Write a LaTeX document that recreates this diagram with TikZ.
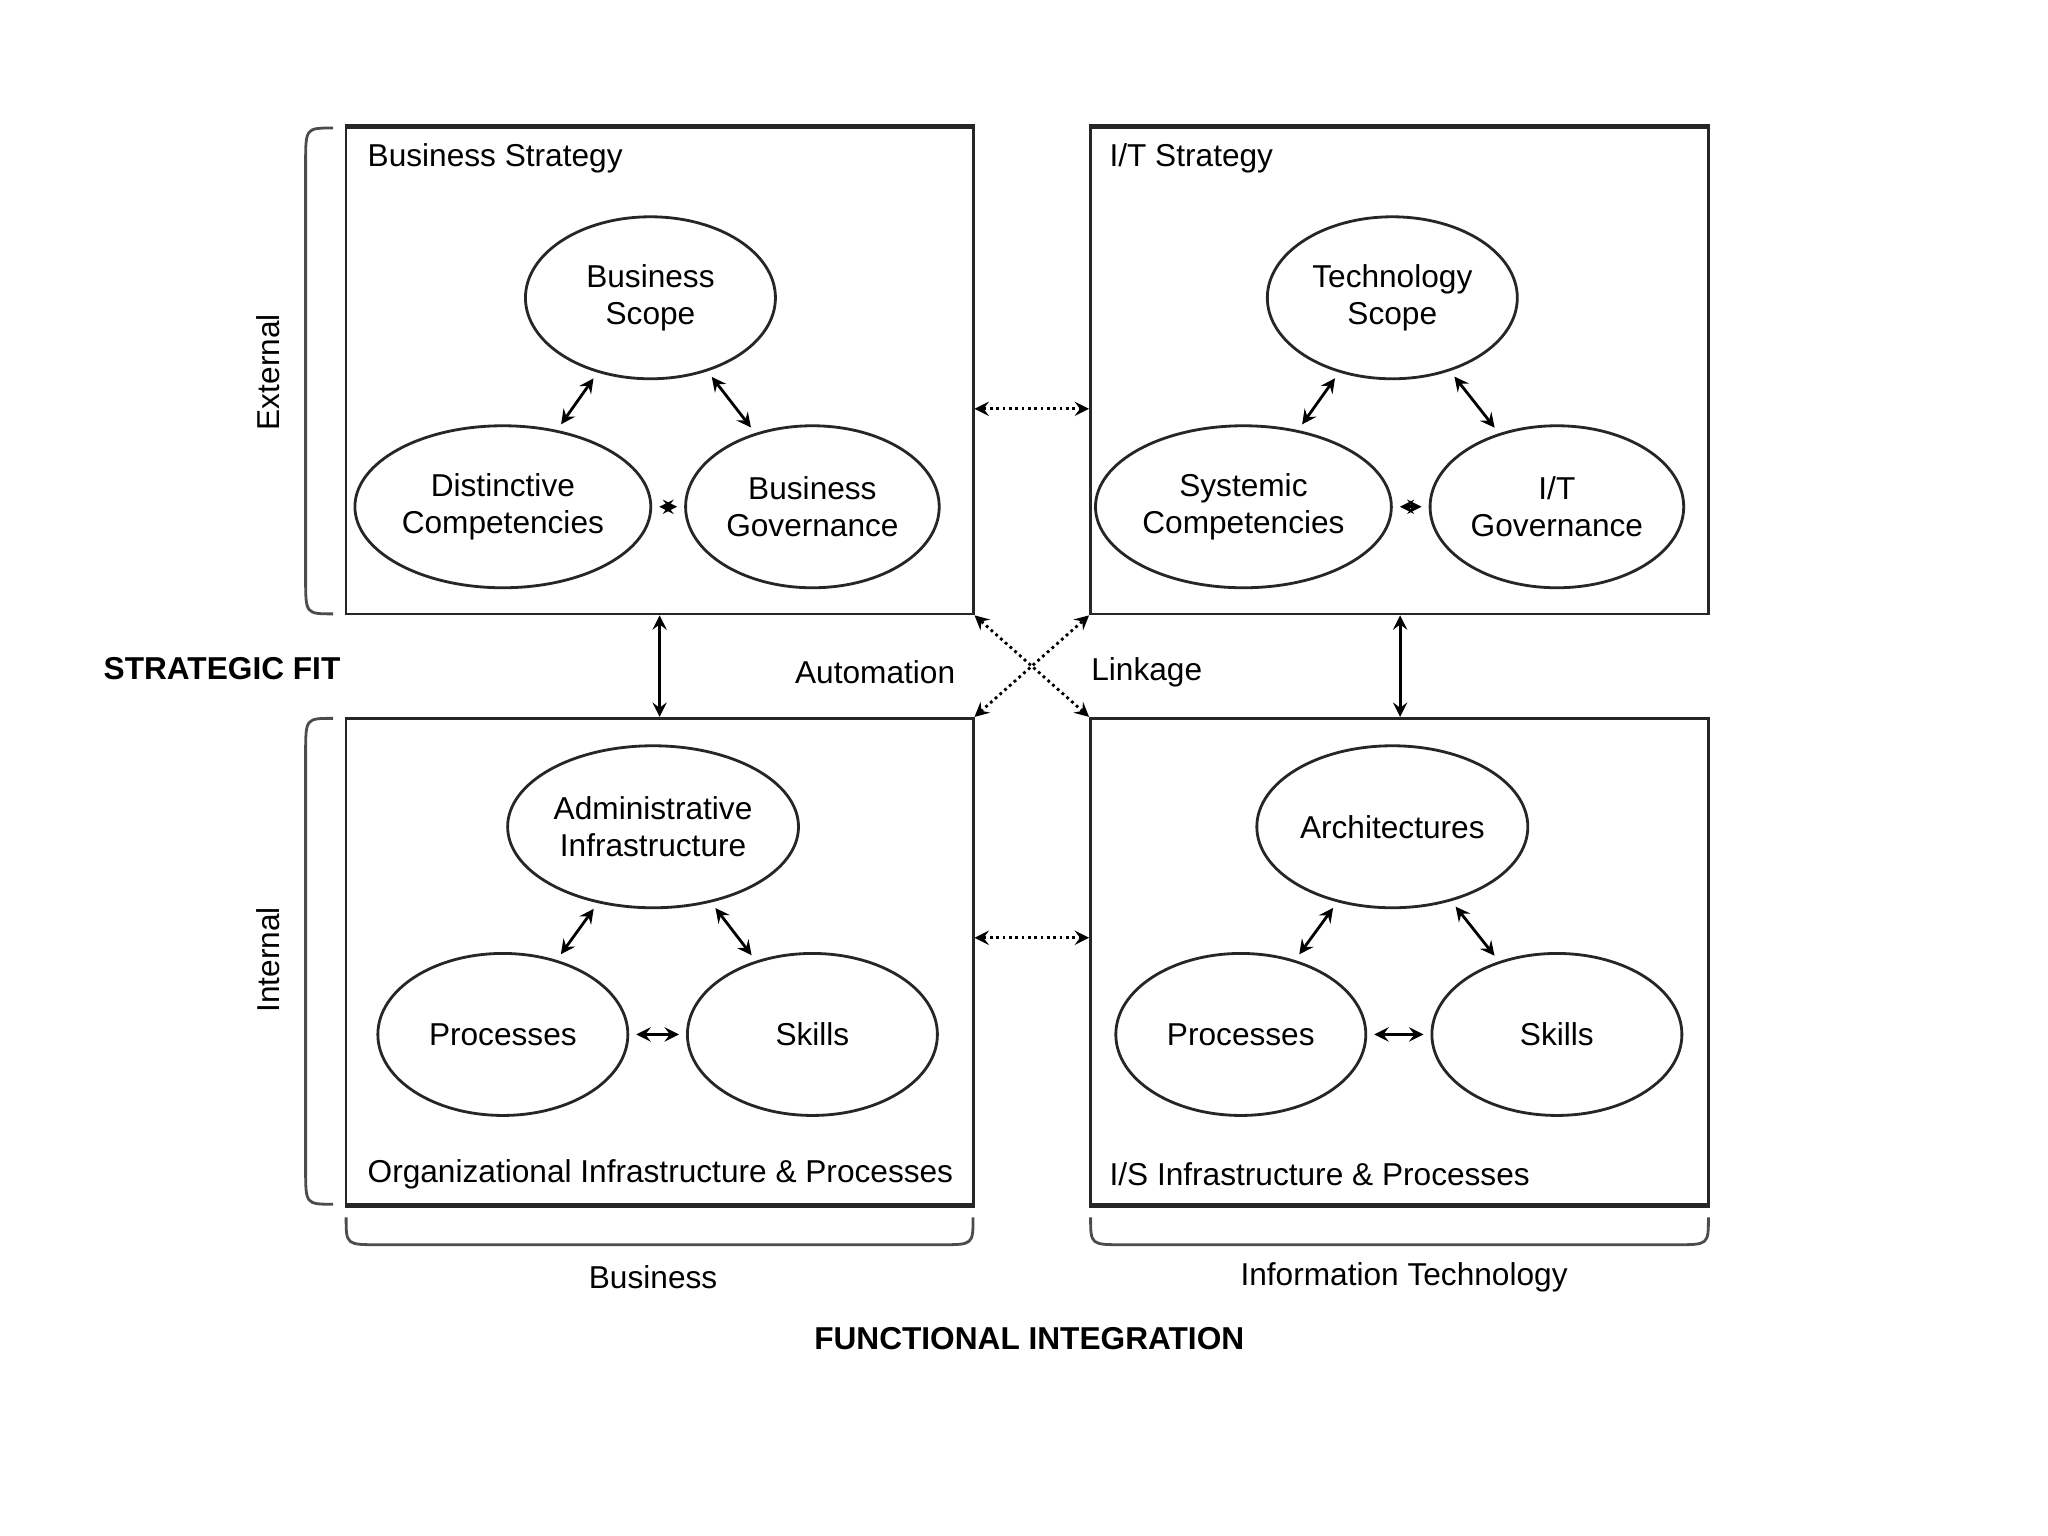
\documentclass[tikz,border=0pt]{standalone}
\usepackage{fontspec}
\setmainfont{Liberation Sans}
\usetikzlibrary{arrows, positioning, calc, shapes.geometric}
\tikzset{
  block/.style={rectangle, draw=black!85, thick, minimum width=6.27cm, minimum height=4.86cm},
  goal/.style={ellipse, draw=black!85, thick, minimum width=2.5cm, minimum height=1.62cm, align=center, inner sep=1pt},
  link/.style={thick, <->, >=stealth, shorten <=2pt, shorten >=2pt},
  dotlink/.style={thick, densely dotted, <->, >=stealth},
  title/.style={anchor=west},
  caption/.style={font=\fontsize{9}{10}\selectfont\bfseries},
  bracket/.style={thick, black!70}
}
\begin{document}
\begin{tikzpicture}[x=0.01306cm, y=-0.01306cm, font=\fontsize{9}{10.5}\selectfont]
  \useasboundingbox (0,0) rectangle (1568,1176);

  % Blocks
  \node (bstrat) [block] at (505,284) {};
  \node (itstrat) [block, minimum width=6.18cm] at (1071.5,284) {};
  \node (binfra) [block] at (505,736) {};
  \node (itinfra) [block, minimum width=6.18cm] at (1071.5,736) {};

  \draw[thick, black!85] ($(bstrat.north west)+(0,-0.61)$) coordinate (h1) -- (h1 -| bstrat.east);
  \draw[thick, black!85] ($(itstrat.north west)+(0,-0.61)$) coordinate (h2) -- (h2 -| itstrat.east);
  \draw[thick, black!85] ($(binfra.south west)+(0,0.57)$) coordinate (f1) -- (f1 -| binfra.east);
  \draw[thick, black!85] ($(itinfra.south west)+(0,0.57)$) coordinate (f2) -- (f2 -| itinfra.east);

  \node (t1) [title] at (272,121) {Business Strategy};
  \node (t2) [title] at (840,121) {I/T Strategy};
  \node (t3) [title] at (272,899) {Organizational Infrastructure \& Processes};
  \node (t4) [title] at (840,899) {I/S Infrastructure \& Processes};

  % Ellipses
  \node (bscope) [goal] at (498,228) {Business\\Scope};
  \node (dcomp) [goal] at (385,388) {Distinctive\\Competencies};
  \node (bgov) [goal] at (622,388) {Business\\Governance};
  \node (tscope) [goal] at (1066,228) {Technology\\Scope};
  \node (scomp) [goal] at (952,388) {Systemic\\Competencies};
  \node (itgov) [goal] at (1192,388) {I/T\\Governance};
  \node (admin) [goal] at (500,633) {Administrative\\Infrastructure};
  \node (bproc) [goal] at (385,792) {Processes};
  \node (bskill) [goal] at (622,792) {Skills};
  \node (arch) [goal] at (1066,633) {Architectures};
  \node (iproc) [goal] at (950,792) {Processes};
  \node (iskill) [goal] at (1192,792) {Skills};

  \foreach \a/\b/\c in {bscope/dcomp/bgov, tscope/scomp/itgov, admin/bproc/bskill, arch/iproc/iskill} {
    \draw [link] (\a) -- (\b);
    \draw [link] (\a) -- (\c);
    \draw [link] (\b) -- (\c);
  }

  % Between blocks
  \draw [dotlink] (bstrat.east |- 0,313) coordinate (d1) -- (d1 -| itstrat.west);
  \draw [dotlink] (binfra.east |- 0,718) coordinate (d2) -- (d2 -| itinfra.west);
  \draw [link, shorten <=0pt, shorten >=0pt] (bstrat.south -| 505,0) -- (binfra.north -| 505,0);
  \draw [link, shorten <=0pt, shorten >=0pt] (itstrat.south -| 1072,0) -- (itinfra.north -| 1072,0);
  \draw [dotlink] (bstrat.south east) -- (itinfra.north west);
  \draw [dotlink] (itstrat.south west) -- (binfra.north east);

  \node (auto) at (670,515) {Automation};
  \node (linkage) at (878,515) {Linkage};
  \node (fit) [caption] at (170,512) {STRATEGIC FIT};
  \node (integ) [caption] at (788,1025) {FUNCTIONAL INTEGRATION};
  \node (bus) at (500,978) {Business};
  \node (it) at (1075,978) {Information Technology};
  \node (ext) [rotate=90] at (205,285) {External};
  \node (int) [rotate=90] at (205,735) {Internal};

  % Brackets
  \draw [bracket] (255,98) .. controls (234,98) .. (234,125) -- (234,443) .. controls (234,470) .. (255,470);
  \draw [bracket] (255,550) .. controls (234,550) .. (234,577) -- (234,895) .. controls (234,922) .. (255,922);
  \draw [bracket] (265,932) .. controls (265,953) .. (290,953) -- (720,953) .. controls (745,953) .. (745,932);
  \draw [bracket] (835,932) .. controls (835,953) .. (860,953) -- (1283,953) .. controls (1308,953) .. (1308,932);
\end{tikzpicture}
\end{document}
